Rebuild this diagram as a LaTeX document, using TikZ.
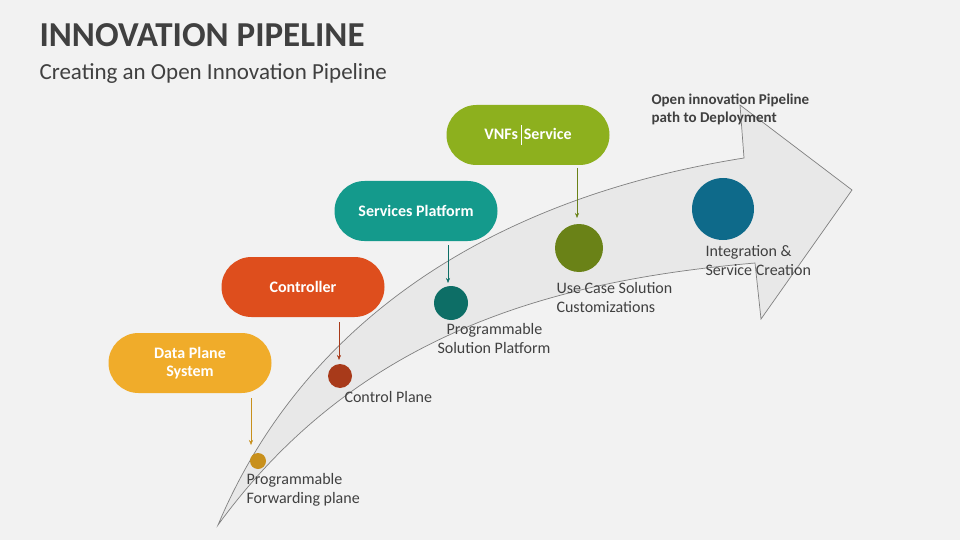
\documentclass[tikz,border=0pt]{standalone}
\usepackage{fontspec}
\setmainfont{Carlito}
\usetikzlibrary{arrows.meta}
\definecolor{bgc}{HTML}{F2F2F2}
\definecolor{txt}{HTML}{404040}
\definecolor{cA}{HTML}{F0AC2A}
\definecolor{cB}{HTML}{DE4E1D}
\definecolor{cC}{HTML}{149A8C}
\definecolor{cD}{HTML}{8DB01E}
\definecolor{dA}{HTML}{C8901C}
\definecolor{dB}{HTML}{A83A1A}
\definecolor{dC}{HTML}{0D6E66}
\definecolor{dD}{HTML}{6A8217}
\definecolor{dE}{HTML}{0E6A8A}
\tikzset{
  pill/.style={rounded corners=30pt,minimum width=163pt,minimum height=60pt,
    text=white,font=\fontsize{16}{19}\selectfont\bfseries,align=center},
  dot/.style={circle,inner sep=0pt},
  lbl/.style={text=txt,font=\fontsize{16}{19}\selectfont,align=left,anchor=north west},
  drop/.style={-{Stealth[length=5pt,width=4pt]},thin}
}
\begin{document}
\begin{tikzpicture}[x=1pt,y=-1pt]
  \fill[bgc] (0,0) rectangle (960,540);
  \useasboundingbox (0,0) rectangle (960,540);

  % title
  \node[anchor=west,text=txt,font=\fontsize{35}{40}\selectfont\bfseries] (title) at (36,35) {INNOVATION PIPELINE};
  \node[anchor=west,text=txt,font=\fontsize{23}{26}\selectfont] (sub) at (36,73) {Creating an Open Innovation Pipeline};

  % pipeline arrow
  \draw[gray,fill=black!9,line width=0.7pt] (218,525)
    .. controls (300,330) and (480,200) .. (744,158)
    -- (740,105) -- (852,190) -- (761,319) -- (755,263)
    .. controls (560,280) and (360,330) .. cycle;

  \node[anchor=north west,text=txt,font=\fontsize{15}{18}\selectfont\bfseries,align=left] (path) at (648,90)
    {Open innovation Pipeline\\path to Deployment};

  % stages
  \node[pill,fill=cA] (data) at (190,363) {Data Plane\\[-1pt]System};
  \node[pill,fill=cB] (ctrl) at (303,287) {Controller};
  \node[pill,fill=cC] (serv) at (416,211) {Services Platform};
  \node[pill,fill=cD] (vnf) at (528,135) {VNFs\,\textcolor{white}{\rule[-5pt]{0.6pt}{20pt}}\,Service};

  \node[dot,fill=dA,minimum size=16pt] (pA) at (258,461) {};
  \node[dot,fill=dB,minimum size=24pt] (pB) at (340,376) {};
  \node[dot,fill=dC,minimum size=34pt] (pC) at (451,303) {};
  \node[dot,fill=dD,minimum size=48pt] (pD) at (579,248) {};
  \node[dot,fill=dE,minimum size=62pt] (pE) at (723,209) {};

  \coordinate (aA) at (251,398);
  \coordinate (aB) at (339,322);
  \coordinate (aC) at (448,245);
  \coordinate (aD) at (577,168);
  \coordinate (eA) at (251,445);
  \coordinate (eB) at (339,360);
  \coordinate (eC) at (448,283);
  \coordinate (eD) at (577,218);
  \draw[drop,dA] (aA) -- (eA);
  \draw[drop,dB] (aB) -- (eB);
  \draw[drop,dC] (aC) -- (eC);
  \draw[drop,dD] (aD) -- (eD);

  \node[lbl] (tA) at (243,470) {Programmable\\Forwarding plane};
  \node[lbl] (tB) at (341,388) {Control Plane};
  \node[lbl] (tC) at (434,320) {\hspace*{9pt}Programmable\\Solution Platform};
  \node[lbl] (tD) at (553,279) {Use Case Solution\\Customizations};
  \node[lbl] (tE) at (702,242) {Integration \&\\Service Creation};
\end{tikzpicture}
\end{document}
